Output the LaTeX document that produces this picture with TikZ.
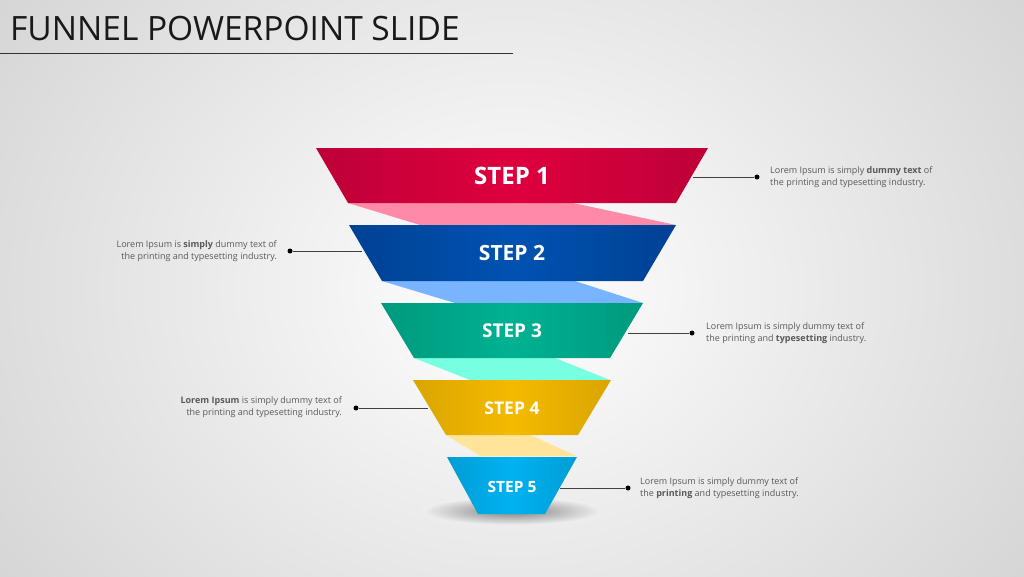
\documentclass[tikz,border=0pt]{standalone}
\usepackage{fontspec}
\setmainfont{Open Sans}
\definecolor{ea}{RGB}{158,0,48}\definecolor{ma}{RGB}{222,0,62}
\definecolor{eb}{RGB}{0,48,117}\definecolor{mb}{RGB}{0,82,178}
\definecolor{ec}{RGB}{0,128,106}\definecolor{mc}{RGB}{0,178,146}
\definecolor{ed}{RGB}{192,144,0}\definecolor{md}{RGB}{244,186,0}
\definecolor{ee}{RGB}{0,136,187}\definecolor{me}{RGB}{0,178,240}
\pgfdeclarehorizontalshading{bandA}{100bp}{color(0bp)=(ea); color(50bp)=(ma); color(100bp)=(ea)}
\pgfdeclarehorizontalshading{bandB}{100bp}{color(0bp)=(eb); color(50bp)=(mb); color(100bp)=(eb)}
\pgfdeclarehorizontalshading{bandC}{100bp}{color(0bp)=(ec); color(50bp)=(mc); color(100bp)=(ec)}
\pgfdeclarehorizontalshading{bandD}{100bp}{color(0bp)=(ed); color(50bp)=(md); color(100bp)=(ed)}
\pgfdeclarehorizontalshading{bandE}{100bp}{color(0bp)=(ee); color(50bp)=(me); color(100bp)=(ee)}
\begin{document}
\begin{tikzpicture}[x=1pt,y=-1pt,
  rib/.style={draw=none},
  lbl/.style={text=white},
  desc/.style={text=black!65,font=\fontsize{9}{12}\selectfont,inner sep=0pt},
  conn/.style={draw=black!75,line width=0.7pt},
  dotc/.style={circle,fill=black,inner sep=0pt,minimum size=5pt}]
\useasboundingbox (0,0) rectangle (1024,576);
\clip (0,0) rectangle (1024,576);
\shade[inner color=white,outer color=black!16] (-100,-220) rectangle (1124,796);
\node[anchor=west,inner sep=0pt,font=\fontsize{33.5}{34}\selectfont,text=black!90] (title) at (10,29) {FUNNEL POWERPOINT SLIDE};
\draw[black!80,line width=0.8pt] (0,53) -- (513,53);
% ribbons
\fill[rib,fill={rgb,255:red,255;green,138;blue,168}] (348,203) -- (573,203) -- (676,225) -- (420,225) -- cycle;
\fill[rib,fill={rgb,255:red,120;green,180;blue,255}] (382,281) -- (575,281) -- (643,303) -- (455,303) -- cycle;
\fill[rib,fill={rgb,255:red,120;green,255;blue,225}] (414,358) -- (555,358) -- (610,380) -- (470,380) -- cycle;
\fill[rib,fill={rgb,255:red,255;green,228;blue,154}] (446,435) -- (530,435) -- (577,456) -- (480,456) -- cycle;
% shadow
\shade[inner color=black!50,outer color=black!6] (512,511) ellipse (90 and 14);
% bands
\shade[shading=bandA] (316,148) -- (708,148) -- (676,203) -- (348,203) -- cycle;
\shade[shading=bandB] (349,225) -- (676,225) -- (643,281) -- (382,281) -- cycle;
\shade[shading=bandC] (381,303) -- (643,303) -- (610,358) -- (414,358) -- cycle;
\shade[shading=bandD] (413,380) -- (611,380) -- (578,435) -- (446,435) -- cycle;
\shade[shading=bandE] (447,457) -- (577,457) -- (545,514) -- (478,514) -- cycle;
\node[lbl,font=\bfseries\fontsize{24}{25}\selectfont] (s1) at (512,176) {STEP 1};
\node[lbl,font=\bfseries\fontsize{21}{22}\selectfont] (s2) at (512,253) {STEP 2};
\node[lbl,font=\bfseries\fontsize{19}{20}\selectfont] (s3) at (512,331) {STEP 3};
\node[lbl,font=\bfseries\fontsize{17.5}{18}\selectfont] (s4) at (512,408) {STEP 4};
\node[lbl,font=\bfseries\fontsize{15.5}{16}\selectfont] (s5) at (512,487) {STEP 5};
% connectors
\coordinate (c1) at (693,177); \node[dotc] (d1) at (757,177) {}; \draw[conn] (c1) -- (d1);
\node[desc,anchor=west,align=left] (t1) at (770,177) {Lorem Ipsum is simply \textbf{dummy text} of\\the printing and typesetting industry.};
\coordinate (c2) at (362,251); \node[dotc] (d2) at (290,251) {}; \draw[conn] (c2) -- (d2);
\node[desc,anchor=east,align=right] (t2) at (277,251) {Lorem Ipsum is \textbf{simply} dummy text of\\the printing and typesetting industry.};
\coordinate (c3) at (628,333); \node[dotc] (d3) at (692,333) {}; \draw[conn] (c3) -- (d3);
\node[desc,anchor=west,align=left] (t3) at (706,333) {Lorem Ipsum is simply dummy text of\\the printing and \textbf{typesetting} industry.};
\coordinate (c4) at (428,408); \node[dotc] (d4) at (356,408) {}; \draw[conn] (c4) -- (d4);
\node[desc,anchor=east,align=right] (t4) at (342,407) {\textbf{Lorem Ipsum} is simply dummy text of\\the printing and typesetting industry.};
\coordinate (c5) at (560,488); \node[dotc] (d5) at (628,488) {}; \draw[conn] (c5) -- (d5);
\node[desc,anchor=west,align=left] (t5) at (640,488) {Lorem Ipsum is simply dummy text of\\the \textbf{printing} and typesetting industry.};
\end{tikzpicture}
\end{document}
